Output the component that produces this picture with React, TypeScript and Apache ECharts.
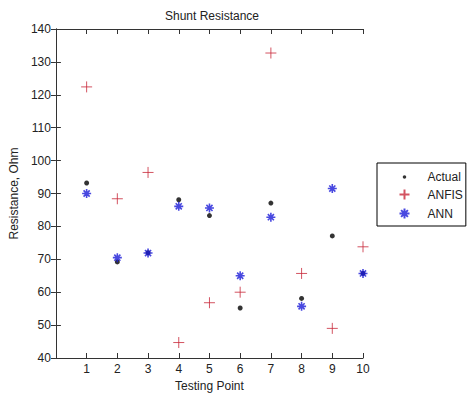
import React, { useEffect, useRef } from "react";
import * as echarts from "echarts";

const testingPoints = [1, 2, 3, 4, 5, 6, 7, 8, 9, 10];
const actualValues = [93.2, 69.2, 72.0, 88.1, 83.3, 55.2, 87.1, 58.1, 77.1, 65.7];
const anfisValues = [122.4, 88.4, 96.4, 44.7, 56.8, 60.0, 132.7, 65.7, 49.0, 73.8];
const annValues = [90.0, 70.5, 71.9, 86.1, 85.6, 65.0, 82.8, 55.7, 91.5, 65.7];

const PLUS = "path://M0,5L10,5M5,0L5,10";
const STAR = "path://M0,5L10,5M5,0L5,10M1.6,1.6L8.4,8.4M8.4,1.6L1.6,8.4";
const DOT_LEGEND = "path://M0,0M10,10M5,3.2A1.8,1.8 0 1 1 5,6.8A1.8,1.8 0 1 1 5,3.2Z";

const FONT = "Liberation Sans, Arial, sans-serif";
const TXT = "#222";

export default function App() {
  const ref = useRef<HTMLDivElement>(null);
  useEffect(() => {
    if (!ref.current) return;
    const chart = echarts.init(ref.current, undefined, { renderer: "svg" });
    const pair = (vals: number[]) => testingPoints.map((x, i) => [x, vals[i]]);
    const axisLine = { show: true, lineStyle: { color: "#333", width: 1 } };
    const tick = { show: true, inside: true, length: 5, lineStyle: { color: "#333" } };
    chart.setOption({
      animation: false,
      backgroundColor: "#fff",
      title: {
        text: "Shunt Resistance",
        left: 207,
        textAlign: "center",
        top: 5,
        textStyle: { fontFamily: FONT, fontSize: 12, fontWeight: "normal", color: TXT },
      },
      grid: { left: 51, right: 111, top: 29, bottom: 39 },
      legend: {
        orient: "vertical",
        left: 377,
        top: 163,
        padding: [8, 3, 5, 20],
        itemWidth: 36,
        itemHeight: 10,
        itemGap: 4,
        borderColor: "#000",
        borderWidth: 1,
        textStyle: { fontFamily: FONT, fontSize: 12, color: TXT },
        data: [{ name: "Actual", icon: DOT_LEGEND }, "ANFIS", "ANN"],
      },
      xAxis: [
        {
          type: "value",
          min: 0,
          max: 10,
          interval: 1,
          name: "Testing Point",
          nameLocation: "middle",
          nameGap: 22,
          nameTextStyle: { fontFamily: FONT, fontSize: 12, color: TXT },
          axisLine,
          axisTick: tick,
          splitLine: { show: false },
          axisLabel: {
            fontFamily: FONT,
            fontSize: 12,
            color: TXT,
            margin: 5,
            formatter: (v: number) => (v === 0 ? "" : String(v)),
          },
        },
        {
          type: "value",
          position: "top",
          min: 0,
          max: 10,
          interval: 1,
          axisLine,
          axisTick: tick,
          splitLine: { show: false },
          axisLabel: { show: false },
        },
      ],
      yAxis: [
        {
          type: "value",
          min: 40,
          max: 140,
          interval: 10,
          name: "Resistance, Ohm",
          nameLocation: "middle",
          nameGap: 33,
          nameTextStyle: { fontFamily: FONT, fontSize: 12, color: TXT },
          axisLine,
          axisTick: tick,
          splitLine: { show: false },
          axisLabel: { fontFamily: FONT, fontSize: 12, color: TXT, margin: 5 },
        },
        {
          type: "value",
          position: "right",
          min: 40,
          max: 140,
          interval: 10,
          axisLine,
          axisTick: tick,
          splitLine: { show: false },
          axisLabel: { show: false },
        },
      ],
      series: [
        {
          name: "Actual",
          type: "scatter",
          symbol: "circle",
          symbolSize: 5,
          itemStyle: { color: "#000" },
          data: pair(actualValues),
        },
        {
          name: "ANFIS",
          type: "scatter",
          symbol: PLUS,
          symbolSize: 11,
          itemStyle: { color: "none", borderColor: "#c8283a", borderWidth: 1 },
          data: pair(anfisValues),
        },
        {
          name: "ANN",
          type: "scatter",
          symbol: STAR,
          symbolSize: 9,
          itemStyle: { color: "none", borderColor: "#1a1ad8", borderWidth: 1.6 },
          data: pair(annValues),
        },
      ],
    });
    return () => chart.dispose();
  }, []);
  return <div ref={ref} style={{ width: 474, height: 397, position: "absolute", left: 0, top: 0 }} />;
}
